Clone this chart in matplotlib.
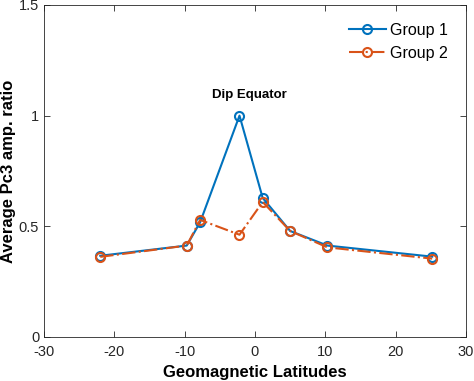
import matplotlib
matplotlib.use("Agg")
import matplotlib.pyplot as plt

lat1 = [-22.0, -9.7, -7.8, -2.2, 1.1, 5.0, 10.3, 25.2]
g1 = [0.367, 0.413, 0.518, 1.0, 0.628, 0.479, 0.413, 0.363]
lat2 = [-22.0, -9.7, -7.8, -2.2, 1.1, 5.0, 10.3, 25.2]
g2 = [0.362, 0.413, 0.529, 0.462, 0.610, 0.479, 0.405, 0.354]
xticks = [-30, -20, -10, 0, 10, 20, 30]
yticks = [0, 0.5, 1, 1.5]

plt.rcParams['font.family'] = ['Liberation Sans', 'DejaVu Sans']

fig = plt.figure(figsize=(4.74, 3.81), dpi=100)
ax = fig.add_axes([0.0928, 0.1155, 0.8902, 0.8715])

c1 = (0, 0.447, 0.741)
c2 = (0.85, 0.325, 0.098)
ax.plot(lat1, g1, '-o', color=c1, lw=1.5, ms=6.5, mfc='none', mew=1.5, label='Group 1')
ax.plot(lat2, g2, '-.o', color=c2, lw=1.5, ms=6.5, mfc='none', mew=1.5, label='Group 2')

ax.set_xlim(-30, 30)
ax.set_ylim(0, 1.5)
ax.set_xticks(xticks)
ax.set_yticks(yticks)
ax.set_xticklabels([str(t) for t in xticks])
ax.set_yticklabels(['0', '0.5', '1', '1.5'])
ax.tick_params(direction='in', top=True, right=True, labelsize=10.5, colors='#262626', length=4, width=0.6)
ax.tick_params(axis='x', pad=6)
for s in ax.spines.values():
    s.set_color('#262626')
    s.set_linewidth(0.6)

ax.set_xlabel('Geomagnetic Latitudes', fontsize=12, fontweight='bold', labelpad=4)
ax.set_ylabel('Average Pc3 amp. ratio', fontsize=12, fontweight='bold', labelpad=2)
ax.text(-0.8, 1.093, 'Dip Equator', ha='center', va='center', fontsize=9.5, fontweight='bold')

ax.legend(loc='upper right', frameon=False, fontsize=11.5, handlelength=2.3, handletextpad=0.3,
          borderaxespad=0.7, labelspacing=0.5)

fig.savefig('out.png', dpi=100)
